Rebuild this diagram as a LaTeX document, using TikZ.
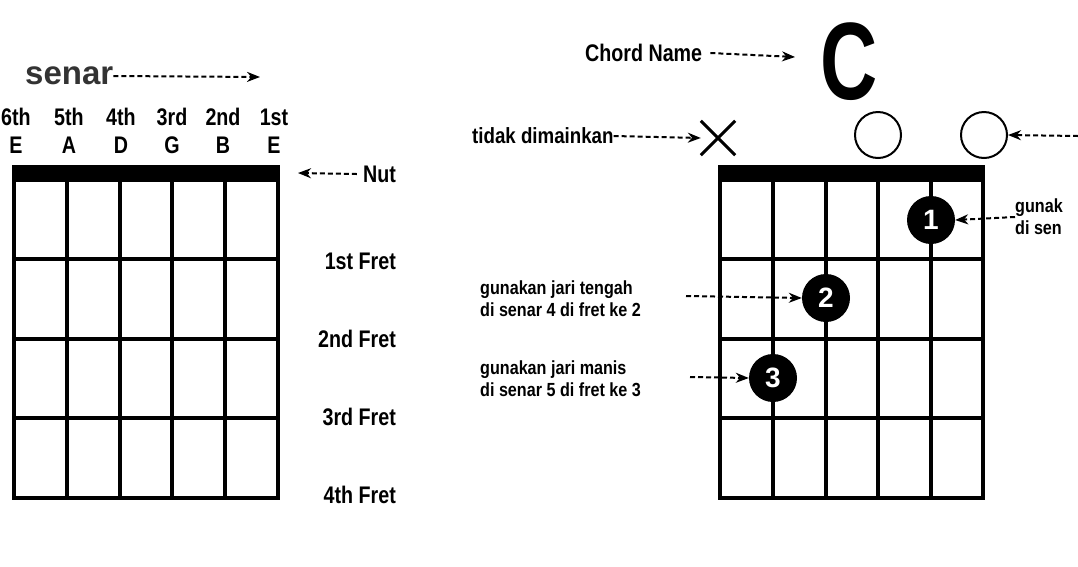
\documentclass[tikz,border=0pt]{standalone}
\usepackage{fontspec}
\setmainfont{Liberation Sans}
\usetikzlibrary{arrows.meta}
\begin{document}
\begin{tikzpicture}[x=1pt,y=-1pt,
  lbl/.style={font=\bfseries\fontsize{24}{24}\selectfont,xscale=0.82,inner sep=0},
  sml/.style={font=\bfseries\fontsize{19}{22}\selectfont,xscale=0.85,inner sep=0,align=left},
  grid/.style={line width=4pt},
  arr/.style={line width=2pt,dash pattern=on 5pt off 3pt,-{Stealth[length=13pt,width=10pt]}},
  dot/.style={circle,fill=black,minimum size=48pt,inner sep=0,text=white,font=\bfseries\fontsize{28}{28}\selectfont},
  open/.style={circle,draw,line width=2pt,minimum size=46pt,inner sep=0}]
\useasboundingbox (0,0) rectangle (1078,566);
% left grid
\fill (12,165) rectangle (280,182);
\foreach \x in {14,67,120,172,225,278} \draw[grid] (\x,181) -- (\x,500);
\foreach \y in {259,339,418,498} \draw[grid] (12,\y) -- (280,\y);
% right grid
\fill (718,165) rectangle (985,182);
\foreach \x in {720,773,826,878,931,983} \draw[grid] (\x,181) -- (\x,500);
\foreach \y in {259,339,418,498} \draw[grid] (718,\y) -- (985,\y);
% string labels
\foreach \x/\a/\b [count=\i] in {16/6th/E,69/5th/A,121/4th/D,172/3rd/G,223/2nd/B,274/1st/E}{
  \node[lbl] (s\i) at (\x,117) {\a};
  \node[lbl] (n\i) at (\x,145) {\b};}
\node[font=\bfseries\fontsize{33}{33}\selectfont,text=black!80,inner sep=0,anchor=west] (senar) at (25,76) {senar};
\coordinate (senarEnd) at (260,77);
\draw[arr] (senar.east) -- (senarEnd);
% frets
\node[lbl,anchor=east] (nut) at (396,174) {Nut};
\coordinate (nutEnd) at (298,173);
\draw[arr] (nut.west) ++(-6,0) coordinate (nutStart) (nutStart) -- (nutEnd);
\foreach \y/\t in {261/1st,339/2nd,417/3rd,495/4th}
  \node[lbl,anchor=east] (f\t) at (396,\y) {\t\ Fret};
% chord name
\node[font=\bfseries\fontsize{110}{110}\selectfont,xscale=0.72,inner sep=0] (C) at (849,62) {C};
\node[lbl,anchor=west] (cn) at (585,53) {Chord Name};
\coordinate (cnEnd) at (795,57);
\draw[arr] (cn.east) ++(8,0) coordinate (cnS) (cnS) -- (cnEnd);
% X and open
\node[inner sep=0,minimum size=34pt] (X) at (718,138) {};
\draw[line width=3pt] (X.north west) -- (X.south east) (X.north east) -- (X.south west);
\node[sml,font=\bfseries\fontsize{22}{22}\selectfont,anchor=west] (td) at (472,136) {tidak dimainkan};
\draw[arr] (td.east) -- (X.west);
\node[open] (o3) at (878,135) {};
\node[open] (o1) at (984,135) {};
\coordinate (oS) at (1078,136);
\draw[arr] (oS) -- (o1.east);
% dots
\node[dot] (d1) at (931,220) {1};
\node[dot] (d2) at (826,298) {2};
\node[dot] (d3) at (773,378) {3};
\node[sml,anchor=west] (t1) at (1015,217) {gunak\\di sen};
\draw[arr] (t1.west) -- (d1.east);
\node[sml,anchor=west] (t2) at (480,299) {gunakan jari tengah\\di senar 4 di fret ke 2};
\coordinate (t2s) at (686,296);
\draw[arr] (t2s) -- (d2.west);
\node[sml,anchor=west] (t3) at (480,379) {gunakan jari manis\\di senar 5 di fret ke 3};
\coordinate (t3s) at (690,377);
\draw[arr] (t3s) -- (d3.west);
\end{tikzpicture}
\end{document}
